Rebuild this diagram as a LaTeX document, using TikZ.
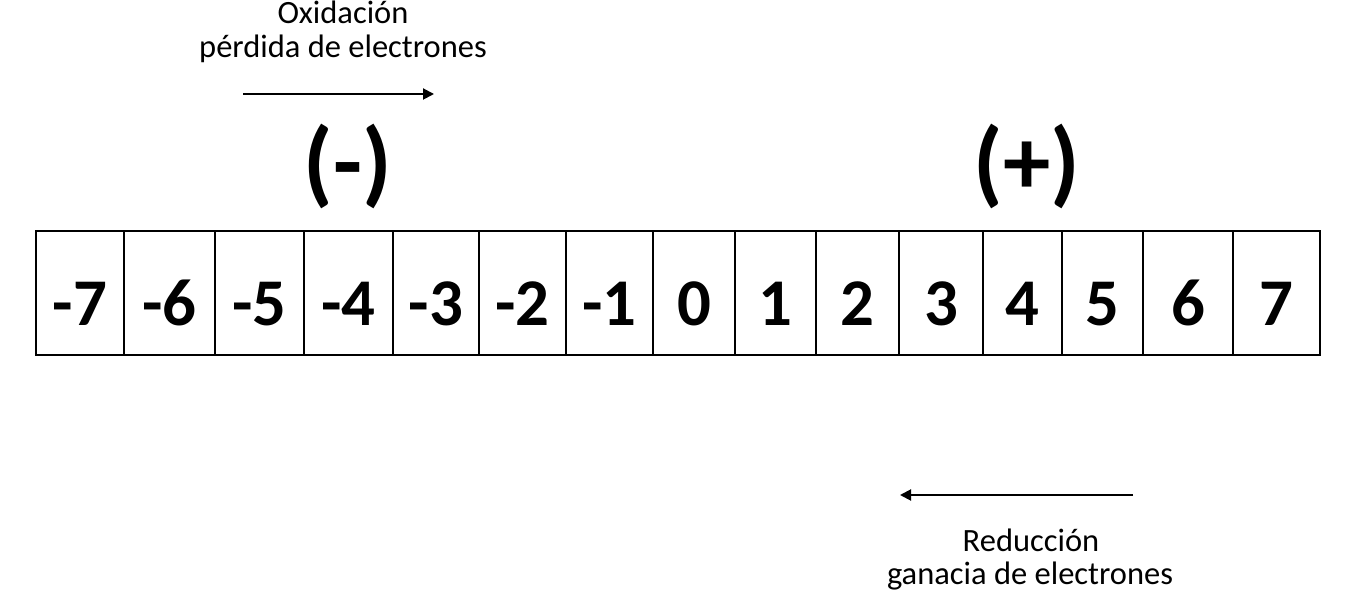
\documentclass[tikz,border=0pt]{standalone}
\usepackage{fontspec}
\setmainfont{Carlito}
\usepackage{tikz}
\usetikzlibrary{arrows.meta}
\tikzset{
  cell/.style={
    shape=rectangle,
    draw,
    line width=1.1pt,
    inner sep=0pt,
    outer sep=0pt,
    minimum height=2.48cm,
    font=\fontsize{38}{40}\bfseries,
    text height=1.32cm,
    text depth=0pt,
  },
  sign/.style={
    font=\fontsize{54}{60}\bfseries,
    inner sep=0pt
  },
  note/.style={
    font=\fontsize{18.5}{20}\selectfont,
    anchor=base,
    inner sep=0pt
  },
  flow/.style={
    line width=1.1pt,
    -{Triangle[length=0.22cm, width=0.22cm]}
  }
}

\begin{document}
\begin{tikzpicture}[x=0.02cm, y=-0.02cm]
\useasboundingbox (0,0) rectangle (1352,594);

% Oxidation numbers
\foreach \v/\a/\b in {-7/36/124, -6/124/215, -5/215/304, -4/304/393,
  -3/393/479, -2/479/566, -1/566/653, 0/653/735, 1/735/816, 2/816/899,
  3/899/983, 4/983/1062, 5/1062/1143, 6/1143/1233, 7/1233/1320}
  \node[cell, minimum width={(\b-\a)*0.02cm}] (c\v) at ({(\a+\b)/2},293) {\v};

% Signs
\node[sign] (neg) at (348,166) {(-)};
\node[sign] (pos) at (1027,166) {(+)};

% Oxidation
\node[note] (oxTitle) at (343,24) {Oxidación};
\node[note] (oxText) at (343,58) {pérdida de electrones};
\coordinate (oxA) at (243,94);
\coordinate (oxB) at (434,94);
\draw[flow] (oxA) -- (oxB);

% Reduction
\node[note] (redTitle) at (1031,551) {Reducción};
\node[note] (redText) at (1030,584) {ganacia de electrones};
\coordinate (redA) at (1133,495);
\coordinate (redB) at (900,495);
\draw[flow] (redA) -- (redB);

\end{tikzpicture}
\end{document}
